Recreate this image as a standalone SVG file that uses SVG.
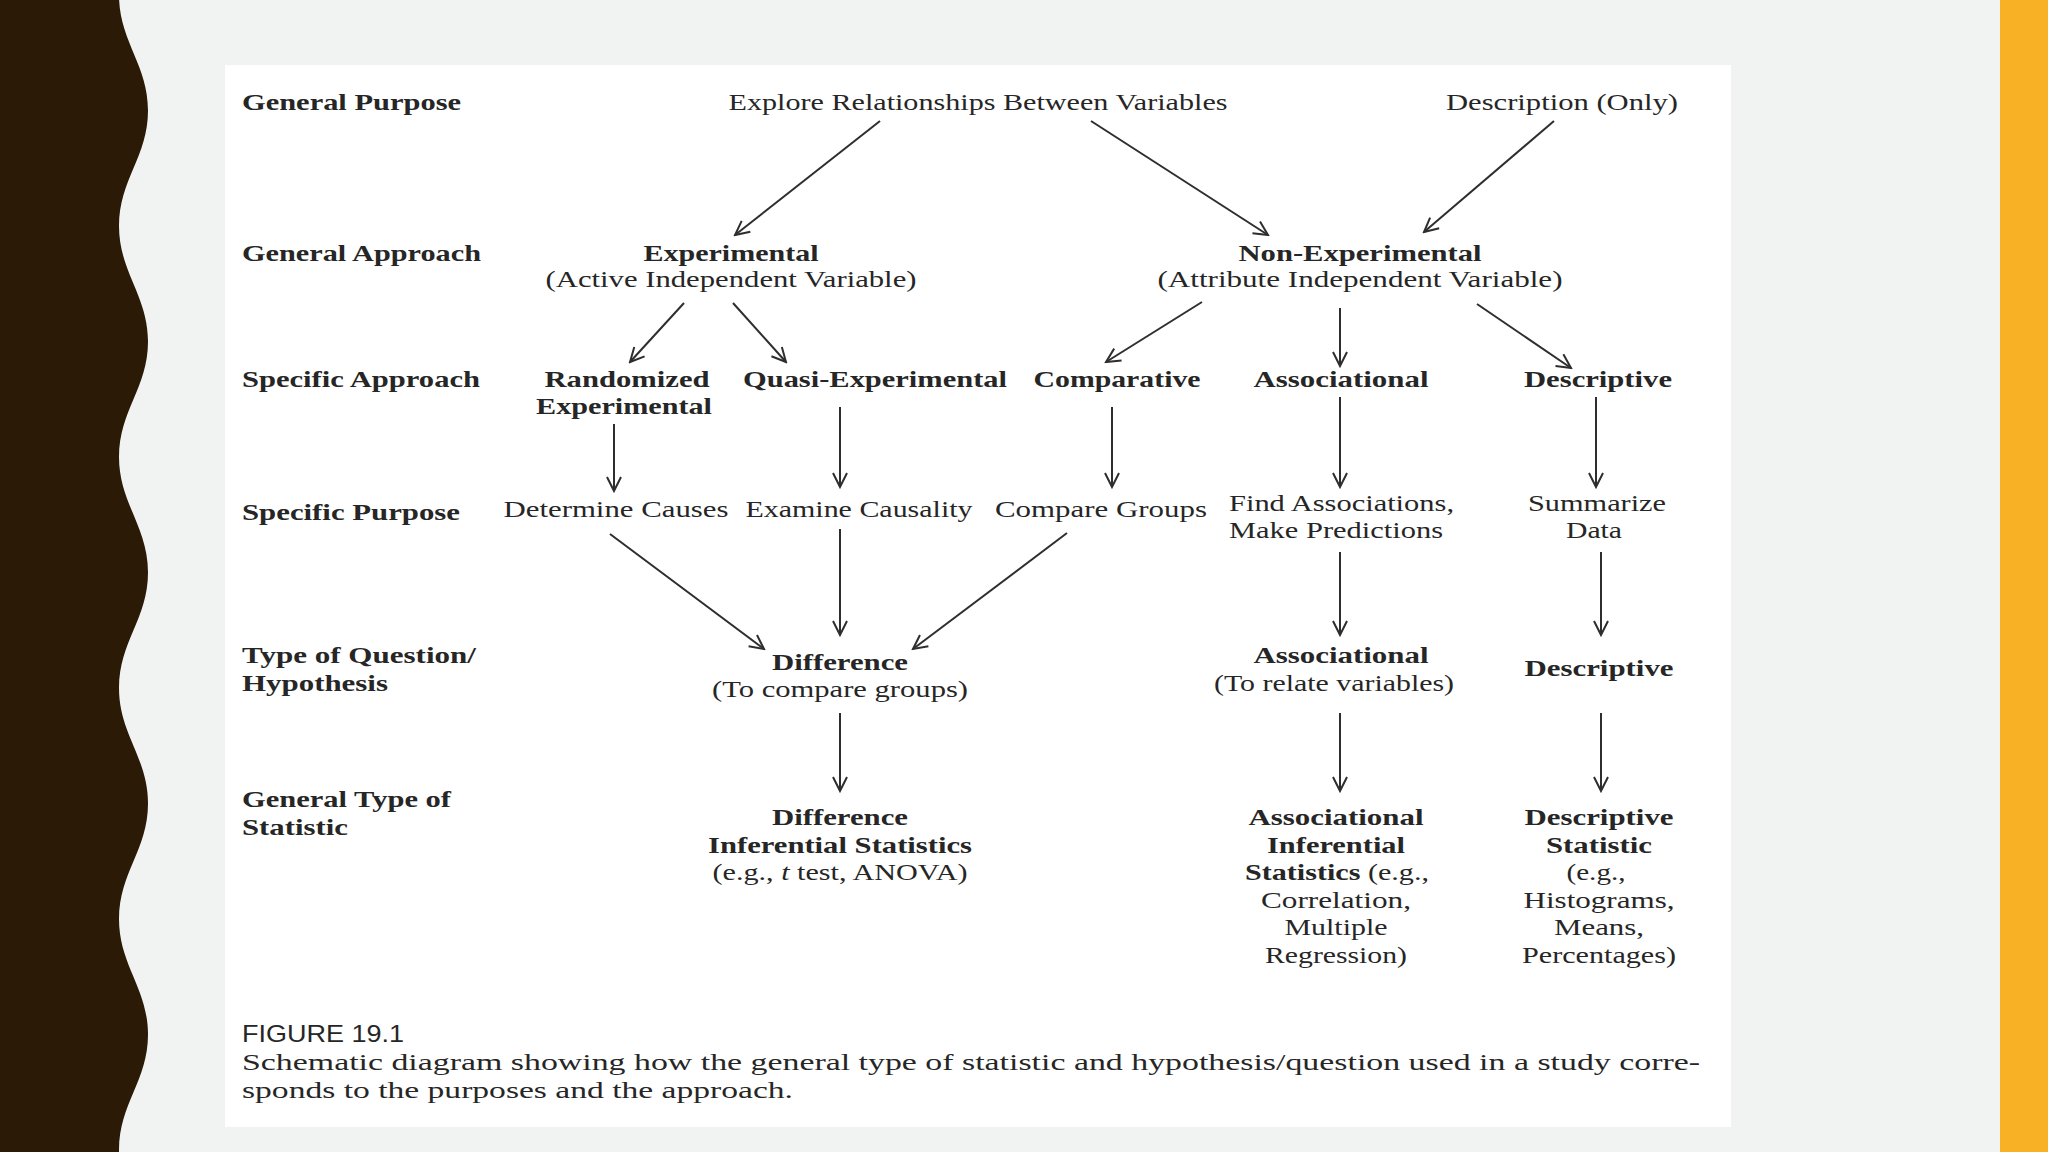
<svg xmlns="http://www.w3.org/2000/svg" width="2048" height="1152" viewBox="0 0 2048 1152">
<style>
.b{font-family:"Liberation Serif","Times New Roman",serif;font-weight:bold;font-size:23px;fill:#262626}
.r{font-family:"Liberation Serif","Times New Roman",serif;font-weight:normal;font-size:23px;fill:#262626}
.c{text-anchor:middle}
.cap{font-family:"Liberation Serif","Times New Roman",serif;font-size:23.5px;fill:#262626}
.fig{font-family:"Liberation Sans",Arial,sans-serif;font-size:24px;fill:#262626}
</style>
<defs>
<marker id="arr" viewBox="-17 -10 19 20" markerWidth="19" markerHeight="20" refX="0" refY="0" orient="auto" markerUnits="userSpaceOnUse">
<path d="M-14,-7 L0,0 L-14,7" fill="none" stroke="#2e2e2e" stroke-width="2"/>
</marker>
</defs>
<g id="background">
<rect x="0" y="0" width="2048" height="1152" fill="#f1f2f2"/>
<rect x="2000" y="0" width="48" height="1152" fill="#f8b124"/>
<path d="M0,-5 L119,-5 C119,41 148,64.5 148,110.5 C148,156.5 119,180 119,226 C119,272 148,295.5 148,341.5 C148,387.5 119,411 119,457 C119,503 148,526.5 148,572.5 C148,618.5 119,642 119,688 C119,734 148,757.5 148,803.5 C148,849.5 119,873 119,919 C119,965 148,988.5 148,1034.5 C148,1080.5 119,1104 119,1150 L119,1160 L0,1160 Z" fill="#2a1a06"/>
<rect x="225" y="65" width="1506" height="1062" fill="#ffffff"/>
</g>
<g id="row-labels" class="b">
<text id="lbl-general-purpose" x="242" y="110" textLength="219" lengthAdjust="spacingAndGlyphs">General Purpose</text>
<text id="lbl-general-approach" x="242" y="261" textLength="239" lengthAdjust="spacingAndGlyphs">General Approach</text>
<text id="lbl-specific-approach" x="242" y="387" textLength="238" lengthAdjust="spacingAndGlyphs">Specific Approach</text>
<text id="lbl-specific-purpose" x="242" y="520" textLength="218" lengthAdjust="spacingAndGlyphs">Specific Purpose</text>
<text id="lbl-question-1" x="242" y="663" textLength="234" lengthAdjust="spacingAndGlyphs">Type of Question/</text>
<text id="lbl-question-2" x="242" y="691" textLength="146" lengthAdjust="spacingAndGlyphs">Hypothesis</text>
<text id="lbl-stat-1" x="242" y="807" textLength="209" lengthAdjust="spacingAndGlyphs">General Type of</text>
<text id="lbl-stat-2" x="242" y="835" textLength="106" lengthAdjust="spacingAndGlyphs">Statistic</text>
</g>
<g id="connectors" stroke="#2e2e2e" stroke-width="2" fill="none" marker-end="url(#arr)">
<line x1="880" y1="121" x2="735" y2="235"/>
<line x1="1091" y1="121" x2="1268" y2="235"/>
<line x1="1554" y1="121" x2="1424" y2="232"/>
<line x1="684" y1="303" x2="630" y2="362"/>
<line x1="733" y1="303" x2="786" y2="362"/>
<line x1="1202" y1="302" x2="1106" y2="362"/>
<line x1="1340" y1="308" x2="1340" y2="366"/>
<line x1="1477" y1="304" x2="1571" y2="368"/>
<line x1="614" y1="424" x2="614" y2="491"/>
<line x1="840" y1="407" x2="840" y2="487"/>
<line x1="1112" y1="407" x2="1112" y2="487"/>
<line x1="1340" y1="397" x2="1340" y2="487"/>
<line x1="1596" y1="397" x2="1596" y2="487"/>
<line x1="610" y1="534" x2="764" y2="649"/>
<line x1="840" y1="529" x2="840" y2="635"/>
<line x1="1067" y1="533" x2="913" y2="649"/>
<line x1="1340" y1="552" x2="1340" y2="635"/>
<line x1="1601" y1="552" x2="1601" y2="635"/>
<line x1="840" y1="713" x2="840" y2="791"/>
<line x1="1340" y1="713" x2="1340" y2="791"/>
<line x1="1601" y1="713" x2="1601" y2="791"/>
</g>
<g id="n-explore"><text class="r c" x="978" y="110" textLength="499" lengthAdjust="spacingAndGlyphs">Explore Relationships Between Variables</text></g>
<g id="n-description-only"><text class="r c" x="1562" y="110" textLength="232" lengthAdjust="spacingAndGlyphs">Description (Only)</text></g>
<g id="n-experimental">
<text class="b c" x="731" y="261" textLength="175" lengthAdjust="spacingAndGlyphs">Experimental</text>
<text class="r c" x="731" y="287" textLength="371" lengthAdjust="spacingAndGlyphs">(Active Independent Variable)</text>
</g>
<g id="n-non-experimental">
<text class="b c" x="1360" y="261" textLength="243" lengthAdjust="spacingAndGlyphs">Non-Experimental</text>
<text class="r c" x="1360" y="287" textLength="405" lengthAdjust="spacingAndGlyphs">(Attribute Independent Variable)</text>
</g>
<g id="n-randomized">
<text class="b c" x="627" y="387" textLength="165" lengthAdjust="spacingAndGlyphs">Randomized</text>
<text class="b c" x="624" y="414" textLength="176" lengthAdjust="spacingAndGlyphs">Experimental</text>
</g>
<g id="n-quasi"><text class="b c" x="875" y="387" textLength="264" lengthAdjust="spacingAndGlyphs">Quasi-Experimental</text></g>
<g id="n-comparative"><text class="b c" x="1117" y="387" textLength="167" lengthAdjust="spacingAndGlyphs">Comparative</text></g>
<g id="n-associational-approach"><text class="b c" x="1341" y="387" textLength="175" lengthAdjust="spacingAndGlyphs">Associational</text></g>
<g id="n-descriptive-approach"><text class="b c" x="1598" y="387" textLength="148" lengthAdjust="spacingAndGlyphs">Descriptive</text></g>
<g id="n-determine"><text class="r c" x="616" y="517" textLength="225" lengthAdjust="spacingAndGlyphs">Determine Causes</text></g>
<g id="n-examine"><text class="r c" x="859" y="517" textLength="227" lengthAdjust="spacingAndGlyphs">Examine Causality</text></g>
<g id="n-compare"><text class="r c" x="1101" y="517" textLength="212" lengthAdjust="spacingAndGlyphs">Compare Groups</text></g>
<g id="n-find">
<text class="r" x="1229" y="511" textLength="225" lengthAdjust="spacingAndGlyphs">Find Associations,</text>
<text class="r" x="1229" y="538" textLength="214" lengthAdjust="spacingAndGlyphs">Make Predictions</text>
</g>
<g id="n-summarize">
<text class="r c" x="1597" y="511" textLength="138" lengthAdjust="spacingAndGlyphs">Summarize</text>
<text class="r c" x="1594" y="538" textLength="56" lengthAdjust="spacingAndGlyphs">Data</text>
</g>
<g id="n-difference-q">
<text class="b c" x="840" y="670" textLength="136" lengthAdjust="spacingAndGlyphs">Difference</text>
<text class="r c" x="840" y="697" textLength="256" lengthAdjust="spacingAndGlyphs">(To compare groups)</text>
</g>
<g id="n-associational-q">
<text class="b c" x="1341" y="663" textLength="175" lengthAdjust="spacingAndGlyphs">Associational</text>
<text class="r c" x="1334" y="691" textLength="240" lengthAdjust="spacingAndGlyphs">(To relate variables)</text>
</g>
<g id="n-descriptive-q"><text class="b c" x="1599" y="676" textLength="149" lengthAdjust="spacingAndGlyphs">Descriptive</text></g>
<g id="n-difference-stat">
<text class="b c" x="840" y="825" textLength="136" lengthAdjust="spacingAndGlyphs">Difference</text>
<text class="b c" x="840" y="853" textLength="264" lengthAdjust="spacingAndGlyphs">Inferential Statistics</text>
<text class="r c" x="840" y="880" textLength="255" lengthAdjust="spacingAndGlyphs">(e.g., <tspan font-style="italic">t</tspan> test, ANOVA)</text>
</g>
<g id="n-associational-stat">
<text class="b c" x="1336" y="825" textLength="175" lengthAdjust="spacingAndGlyphs">Associational</text>
<text class="b c" x="1336" y="853" textLength="138" lengthAdjust="spacingAndGlyphs">Inferential</text>
<text class="b c" x="1337" y="880" textLength="184" lengthAdjust="spacingAndGlyphs">Statistics<tspan font-weight="normal"> (e.g.,</tspan></text>
<text class="r c" x="1336" y="908" textLength="150" lengthAdjust="spacingAndGlyphs">Correlation,</text>
<text class="r c" x="1336" y="935" textLength="103" lengthAdjust="spacingAndGlyphs">Multiple</text>
<text class="r c" x="1336" y="963" textLength="142" lengthAdjust="spacingAndGlyphs">Regression)</text>
</g>
<g id="n-descriptive-stat">
<text class="b c" x="1599" y="825" textLength="149" lengthAdjust="spacingAndGlyphs">Descriptive</text>
<text class="b c" x="1599" y="853" textLength="106" lengthAdjust="spacingAndGlyphs">Statistic</text>
<text class="r c" x="1596" y="880" textLength="59" lengthAdjust="spacingAndGlyphs">(e.g.,</text>
<text class="r c" x="1599" y="908" textLength="151" lengthAdjust="spacingAndGlyphs">Histograms,</text>
<text class="r c" x="1599" y="935" textLength="90" lengthAdjust="spacingAndGlyphs">Means,</text>
<text class="r c" x="1599" y="963" textLength="154" lengthAdjust="spacingAndGlyphs">Percentages)</text>
</g>
<g id="caption">
<text class="fig" x="242" y="1042" textLength="162" lengthAdjust="spacingAndGlyphs">FIGURE 19.1</text>
<text class="cap" x="242" y="1070" textLength="1458" lengthAdjust="spacingAndGlyphs">Schematic diagram showing how the general type of statistic and hypothesis/question used in a study corre-</text>
<text class="cap" x="242" y="1098" textLength="551" lengthAdjust="spacingAndGlyphs">sponds to the purposes and the approach.</text>
</g>
</svg>
